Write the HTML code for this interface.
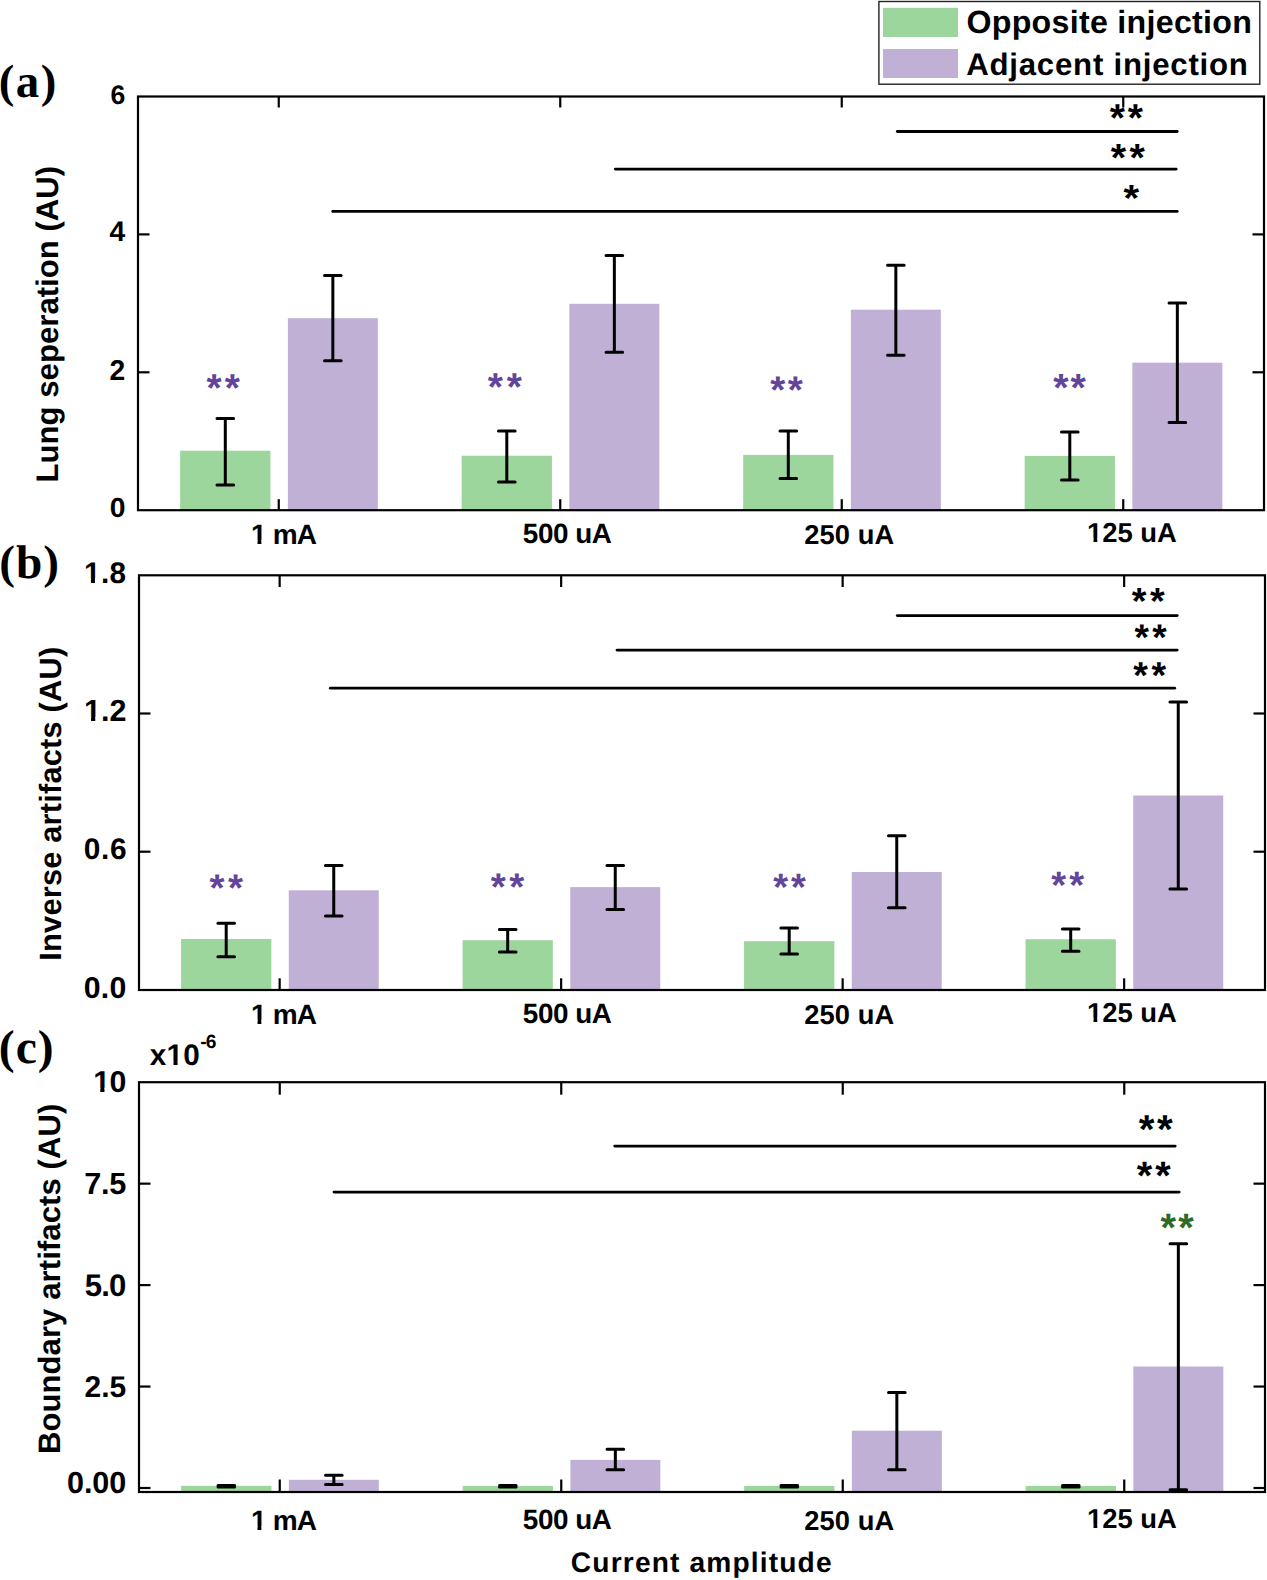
<!DOCTYPE html><html><head><meta charset="utf-8"><style>
html,body{margin:0;padding:0;background:#fff;overflow:hidden;}
svg{display:block;}
text{font-weight:bold;text-rendering:geometricPrecision;}
</style></head><body>
<svg width="1267" height="1580" viewBox="0 0 1267 1580">
<rect width="1267" height="1580" fill="#fff"/>
<rect x="878.9" y="1.5" width="380.9" height="82.7" fill="#fff" stroke="#222" stroke-width="1.4"/>
<rect x="883" y="7.8" width="75" height="29.2" fill="#9dd69d"/>
<rect x="883" y="49" width="75" height="29" fill="#c1b0d6"/>
<rect x="180.15" y="450.7" width="90.29999999999998" height="59.5" fill="#9dd69d"/>
<rect x="287.85" y="318.2" width="90.0" height="192.0" fill="#c1b0d6"/>
<rect x="461.65" y="455.7" width="90.30000000000007" height="54.5" fill="#9dd69d"/>
<rect x="569.35" y="303.8" width="90.0" height="206.39999999999998" fill="#c1b0d6"/>
<rect x="743.15" y="454.9" width="90.30000000000007" height="55.30000000000001" fill="#9dd69d"/>
<rect x="850.85" y="309.7" width="90.0" height="200.5" fill="#c1b0d6"/>
<rect x="1024.65" y="455.9" width="90.29999999999995" height="54.30000000000001" fill="#9dd69d"/>
<rect x="1132.35" y="362.7" width="90.0" height="147.5" fill="#c1b0d6"/>
<rect x="138" y="96.5" width="1126" height="413.7" fill="none" stroke="#000" stroke-width="2.2"/>
<line x1="278.75" y1="510.2" x2="278.75" y2="499.2" stroke="#000" stroke-width="2.2"/>
<line x1="278.75" y1="96.5" x2="278.75" y2="107.5" stroke="#000" stroke-width="2.2"/>
<line x1="560.25" y1="510.2" x2="560.25" y2="499.2" stroke="#000" stroke-width="2.2"/>
<line x1="560.25" y1="96.5" x2="560.25" y2="107.5" stroke="#000" stroke-width="2.2"/>
<line x1="841.75" y1="510.2" x2="841.75" y2="499.2" stroke="#000" stroke-width="2.2"/>
<line x1="841.75" y1="96.5" x2="841.75" y2="107.5" stroke="#000" stroke-width="2.2"/>
<line x1="1123.25" y1="510.2" x2="1123.25" y2="499.2" stroke="#000" stroke-width="2.2"/>
<line x1="1123.25" y1="96.5" x2="1123.25" y2="107.5" stroke="#000" stroke-width="2.2"/>
<line x1="138" y1="234.39999999999998" x2="149.5" y2="234.39999999999998" stroke="#000" stroke-width="2.2"/>
<line x1="1264" y1="234.39999999999998" x2="1252.5" y2="234.39999999999998" stroke="#000" stroke-width="2.2"/>
<line x1="138" y1="372.29999999999995" x2="149.5" y2="372.29999999999995" stroke="#000" stroke-width="2.2"/>
<line x1="1264" y1="372.29999999999995" x2="1252.5" y2="372.29999999999995" stroke="#000" stroke-width="2.2"/>
<path d="M217.00,418.4H233.60M225.30,418.4V484.9M217.00,484.9H233.60" stroke="#000" stroke-width="3.0" fill="none" stroke-linecap="round"/>
<path d="M324.55,275.6H341.15M332.85,275.6V360.7M324.55,360.7H341.15" stroke="#000" stroke-width="3.0" fill="none" stroke-linecap="round"/>
<path d="M498.50,431.1H515.10M506.80,431.1V482.0M498.50,482.0H515.10" stroke="#000" stroke-width="3.0" fill="none" stroke-linecap="round"/>
<path d="M606.05,255.4H622.65M614.35,255.4V352.2M606.05,352.2H622.65" stroke="#000" stroke-width="3.0" fill="none" stroke-linecap="round"/>
<path d="M780.00,431.1H796.60M788.30,431.1V478.4M780.00,478.4H796.60" stroke="#000" stroke-width="3.0" fill="none" stroke-linecap="round"/>
<path d="M887.55,265.2H904.15M895.85,265.2V355.2M887.55,355.2H904.15" stroke="#000" stroke-width="3.0" fill="none" stroke-linecap="round"/>
<path d="M1061.50,431.9H1078.10M1069.80,431.9V480.0M1061.50,480.0H1078.10" stroke="#000" stroke-width="3.0" fill="none" stroke-linecap="round"/>
<path d="M1169.05,303.1H1185.65M1177.35,303.1V422.4M1169.05,422.4H1185.65" stroke="#000" stroke-width="3.0" fill="none" stroke-linecap="round"/>
<line x1="897.3" y1="131.5" x2="1177.2" y2="131.5" stroke="#000" stroke-width="2.8" stroke-linecap="round"/>
<line x1="615.3" y1="169.1" x2="1176.2" y2="169.1" stroke="#000" stroke-width="2.8" stroke-linecap="round"/>
<line x1="332.8" y1="211.4" x2="1177.2" y2="211.4" stroke="#000" stroke-width="2.8" stroke-linecap="round"/>
<rect x="181.04999999999998" y="939.0" width="90.29999999999998" height="51.0" fill="#9dd69d"/>
<rect x="288.75" y="890.3" width="90.0" height="99.70000000000005" fill="#c1b0d6"/>
<rect x="462.54999999999995" y="940.2" width="90.30000000000007" height="49.799999999999955" fill="#9dd69d"/>
<rect x="570.25" y="887.1" width="90.0" height="102.89999999999998" fill="#c1b0d6"/>
<rect x="744.05" y="941.2" width="90.30000000000007" height="48.799999999999955" fill="#9dd69d"/>
<rect x="851.75" y="872.0" width="90.0" height="118.0" fill="#c1b0d6"/>
<rect x="1025.5500000000002" y="939.2" width="90.29999999999995" height="50.799999999999955" fill="#9dd69d"/>
<rect x="1133.25" y="795.5" width="90.0" height="194.5" fill="#c1b0d6"/>
<rect x="139" y="575.3" width="1126" height="414.70000000000005" fill="none" stroke="#000" stroke-width="2.2"/>
<line x1="279.65" y1="990" x2="279.65" y2="978.3" stroke="#000" stroke-width="2.2"/>
<line x1="279.65" y1="575.3" x2="279.65" y2="587.0" stroke="#000" stroke-width="2.2"/>
<line x1="561.15" y1="990" x2="561.15" y2="978.3" stroke="#000" stroke-width="2.2"/>
<line x1="561.15" y1="575.3" x2="561.15" y2="587.0" stroke="#000" stroke-width="2.2"/>
<line x1="842.65" y1="990" x2="842.65" y2="978.3" stroke="#000" stroke-width="2.2"/>
<line x1="842.65" y1="575.3" x2="842.65" y2="587.0" stroke="#000" stroke-width="2.2"/>
<line x1="1124.15" y1="990" x2="1124.15" y2="978.3" stroke="#000" stroke-width="2.2"/>
<line x1="1124.15" y1="575.3" x2="1124.15" y2="587.0" stroke="#000" stroke-width="2.2"/>
<line x1="139" y1="713.5" x2="150.5" y2="713.5" stroke="#000" stroke-width="2.2"/>
<line x1="1265" y1="713.5" x2="1253.5" y2="713.5" stroke="#000" stroke-width="2.2"/>
<line x1="139" y1="851.6999999999999" x2="150.5" y2="851.6999999999999" stroke="#000" stroke-width="2.2"/>
<line x1="1265" y1="851.6999999999999" x2="1253.5" y2="851.6999999999999" stroke="#000" stroke-width="2.2"/>
<path d="M217.90,923.3H234.50M226.20,923.3V956.7M217.90,956.7H234.50" stroke="#000" stroke-width="3.0" fill="none" stroke-linecap="round"/>
<path d="M325.45,865.4H342.05M333.75,865.4V916.1M325.45,916.1H342.05" stroke="#000" stroke-width="3.0" fill="none" stroke-linecap="round"/>
<path d="M499.40,929.4H516.00M507.70,929.4V951.9M499.40,951.9H516.00" stroke="#000" stroke-width="3.0" fill="none" stroke-linecap="round"/>
<path d="M606.95,865.4H623.55M615.25,865.4V909.6M606.95,909.6H623.55" stroke="#000" stroke-width="3.0" fill="none" stroke-linecap="round"/>
<path d="M780.90,927.9H797.50M789.20,927.9V954.1M780.90,954.1H797.50" stroke="#000" stroke-width="3.0" fill="none" stroke-linecap="round"/>
<path d="M888.45,835.7H905.05M896.75,835.7V907.8M888.45,907.8H905.05" stroke="#000" stroke-width="3.0" fill="none" stroke-linecap="round"/>
<path d="M1062.40,929.1H1079.00M1070.70,929.1V951.3M1062.40,951.3H1079.00" stroke="#000" stroke-width="3.0" fill="none" stroke-linecap="round"/>
<path d="M1169.95,702.1H1186.55M1178.25,702.1V888.9M1169.95,888.9H1186.55" stroke="#000" stroke-width="3.0" fill="none" stroke-linecap="round"/>
<line x1="897.3" y1="615.6" x2="1177.2" y2="615.6" stroke="#000" stroke-width="2.8" stroke-linecap="round"/>
<line x1="617.0" y1="650.1" x2="1177.2" y2="650.1" stroke="#000" stroke-width="2.8" stroke-linecap="round"/>
<line x1="330.3" y1="688.2" x2="1174.7" y2="688.2" stroke="#000" stroke-width="2.8" stroke-linecap="round"/>
<rect x="181.15" y="1485.8" width="90.29999999999998" height="6.2000000000000455" fill="#9dd69d"/>
<rect x="288.85" y="1479.8" width="90.0" height="12.200000000000045" fill="#c1b0d6"/>
<rect x="462.65" y="1485.9" width="90.30000000000007" height="6.099999999999909" fill="#9dd69d"/>
<rect x="570.35" y="1459.9" width="90.0" height="32.09999999999991" fill="#c1b0d6"/>
<rect x="744.15" y="1485.9" width="90.30000000000007" height="6.099999999999909" fill="#9dd69d"/>
<rect x="851.85" y="1430.7" width="90.0" height="61.299999999999955" fill="#c1b0d6"/>
<rect x="1025.65" y="1485.9" width="90.29999999999995" height="6.099999999999909" fill="#9dd69d"/>
<rect x="1133.35" y="1366.5" width="90.0" height="125.5" fill="#c1b0d6"/>
<rect x="139" y="1082.2" width="1126" height="409.79999999999995" fill="none" stroke="#000" stroke-width="2.2"/>
<line x1="279.75" y1="1492" x2="279.75" y2="1479.5" stroke="#000" stroke-width="2.2"/>
<line x1="279.75" y1="1082.2" x2="279.75" y2="1094.7" stroke="#000" stroke-width="2.2"/>
<line x1="561.25" y1="1492" x2="561.25" y2="1479.5" stroke="#000" stroke-width="2.2"/>
<line x1="561.25" y1="1082.2" x2="561.25" y2="1094.7" stroke="#000" stroke-width="2.2"/>
<line x1="842.75" y1="1492" x2="842.75" y2="1479.5" stroke="#000" stroke-width="2.2"/>
<line x1="842.75" y1="1082.2" x2="842.75" y2="1094.7" stroke="#000" stroke-width="2.2"/>
<line x1="1124.25" y1="1492" x2="1124.25" y2="1479.5" stroke="#000" stroke-width="2.2"/>
<line x1="1124.25" y1="1082.2" x2="1124.25" y2="1094.7" stroke="#000" stroke-width="2.2"/>
<line x1="139" y1="1183.65" x2="150.5" y2="1183.65" stroke="#000" stroke-width="2.2"/>
<line x1="1265" y1="1183.65" x2="1253.5" y2="1183.65" stroke="#000" stroke-width="2.2"/>
<line x1="139" y1="1285.1" x2="150.5" y2="1285.1" stroke="#000" stroke-width="2.2"/>
<line x1="1265" y1="1285.1" x2="1253.5" y2="1285.1" stroke="#000" stroke-width="2.2"/>
<line x1="139" y1="1386.55" x2="150.5" y2="1386.55" stroke="#000" stroke-width="2.2"/>
<line x1="1265" y1="1386.55" x2="1253.5" y2="1386.55" stroke="#000" stroke-width="2.2"/>
<line x1="139" y1="1488.0" x2="150.5" y2="1488.0" stroke="#000" stroke-width="2.2"/>
<line x1="1265" y1="1488.0" x2="1253.5" y2="1488.0" stroke="#000" stroke-width="2.2"/>
<path d="M218.00,1485.5H234.60M226.30,1485.5V1487.1M218.00,1487.1H234.60" stroke="#000" stroke-width="3.0" fill="none" stroke-linecap="round"/>
<path d="M325.55,1475.3H342.15M333.85,1475.3V1484.4M325.55,1484.4H342.15" stroke="#000" stroke-width="3.0" fill="none" stroke-linecap="round"/>
<path d="M499.50,1485.5H516.10M507.80,1485.5V1487.1M499.50,1487.1H516.10" stroke="#000" stroke-width="3.0" fill="none" stroke-linecap="round"/>
<path d="M607.05,1449.2H623.65M615.35,1449.2V1469.7M607.05,1469.7H623.65" stroke="#000" stroke-width="3.0" fill="none" stroke-linecap="round"/>
<path d="M781.00,1485.5H797.60M789.30,1485.5V1487.1M781.00,1487.1H797.60" stroke="#000" stroke-width="3.0" fill="none" stroke-linecap="round"/>
<path d="M888.55,1392.6H905.15M896.85,1392.6V1469.7M888.55,1469.7H905.15" stroke="#000" stroke-width="3.0" fill="none" stroke-linecap="round"/>
<path d="M1062.50,1485.5H1079.10M1070.80,1485.5V1487.1M1062.50,1487.1H1079.10" stroke="#000" stroke-width="3.0" fill="none" stroke-linecap="round"/>
<path d="M1170.05,1243.7H1186.65M1178.35,1243.7V1489.8M1170.05,1489.8H1186.65" stroke="#000" stroke-width="3.0" fill="none" stroke-linecap="round"/>
<line x1="614.6999999999999" y1="1146.1" x2="1175.2" y2="1146.1" stroke="#000" stroke-width="2.8" stroke-linecap="round"/>
<line x1="334.0" y1="1192.1" x2="1179.2" y2="1192.1" stroke="#000" stroke-width="2.8" stroke-linecap="round"/>
<text transform="translate(-1.15,96.89) scale(0.9770,0.9770)" style="font-family:'Liberation Serif',serif;font-size:48px;letter-spacing:1.402px;fill:#000">(a)</text>
<text transform="translate(-0.87,577.71) scale(0.9839,0.9839)" style="font-family:'Liberation Serif',serif;font-size:48px;letter-spacing:1.106px;fill:#000">(b)</text>
<text transform="translate(-1.18,1063.44) scale(0.9908,0.9908)" style="font-family:'Liberation Serif',serif;font-size:48px;letter-spacing:1.061px;fill:#000">(c)</text>
<text transform="translate(966.44,33.37) scale(1.0050,1.0050)" style="font-family:'Liberation Sans',sans-serif;font-size:32px;letter-spacing:0.290px;fill:#000">Opposite injection</text>
<text transform="translate(966.17,74.96) scale(0.9748,0.9748)" style="font-family:'Liberation Sans',sans-serif;font-size:32px;letter-spacing:0.786px;fill:#000">Adjacent injection</text>
<text transform="translate(110.42,103.65) scale(0.9846,0.9947)" style="font-family:'Liberation Sans',sans-serif;font-size:27px;letter-spacing:0.000px;fill:#000">6</text>
<text transform="translate(109.48,240.60) scale(1.0456,1.0486)" style="font-family:'Liberation Sans',sans-serif;font-size:27px;letter-spacing:0.000px;fill:#000">4</text>
<text transform="translate(109.55,379.80) scale(1.0462,1.0560)" style="font-family:'Liberation Sans',sans-serif;font-size:27px;letter-spacing:0.000px;fill:#000">2</text>
<text transform="translate(109.65,516.85) scale(1.0462,1.0158)" style="font-family:'Liberation Sans',sans-serif;font-size:27px;letter-spacing:0.000px;fill:#000">0</text>
<text transform="translate(83.98,582.52) scale(1.1000,1.1000)" style="font-family:'Liberation Sans',sans-serif;font-size:27px;letter-spacing:0.364px;fill:#000">1.8</text><g transform="translate(83.98,582.52) scale(1.1000,1.1000)"><rect x="0.264" y="-3.823" width="6.025" height="5.273" fill="#fff"/><rect x="10.020" y="-3.823" width="5.801" height="5.273" fill="#fff"/></g>
<text transform="translate(83.92,721.40) scale(1.1307,1.1307)" style="font-family:'Liberation Sans',sans-serif;font-size:27px;letter-spacing:0.004px;fill:#000">1.2</text><g transform="translate(83.92,721.40) scale(1.1307,1.1307)"><rect x="0.264" y="-3.823" width="6.025" height="5.273" fill="#fff"/><rect x="10.020" y="-3.823" width="5.801" height="5.273" fill="#fff"/></g>
<text transform="translate(83.79,858.82) scale(1.1053,1.1053)" style="font-family:'Liberation Sans',sans-serif;font-size:27px;letter-spacing:0.571px;fill:#000">0.6</text>
<text transform="translate(83.78,997.52) scale(1.1211,1.1211)" style="font-family:'Liberation Sans',sans-serif;font-size:27px;letter-spacing:0.224px;fill:#000">0.0</text>
<text transform="translate(93.24,1092.22) scale(1.1211,1.1211)" style="font-family:'Liberation Sans',sans-serif;font-size:27px;letter-spacing:-0.489px;fill:#000">10</text><g transform="translate(93.24,1092.22) scale(1.1211,1.1211)"><rect x="0.264" y="-3.823" width="6.025" height="5.273" fill="#fff"/><rect x="10.020" y="-3.823" width="5.417" height="5.273" fill="#fff"/></g>
<text transform="translate(84.28,1194.12) scale(1.1360,1.1360)" style="font-family:'Liberation Sans',sans-serif;font-size:27px;letter-spacing:-0.276px;fill:#000">7.5</text>
<text transform="translate(84.75,1295.51) scale(1.1526,1.1526)" style="font-family:'Liberation Sans',sans-serif;font-size:27px;letter-spacing:-0.702px;fill:#000">5.0</text>
<text transform="translate(84.59,1396.72) scale(1.1105,1.1105)" style="font-family:'Liberation Sans',sans-serif;font-size:27px;letter-spacing:-0.001px;fill:#000">2.5</text>
<text transform="translate(67.07,1492.52) scale(1.1316,1.1316)" style="font-family:'Liberation Sans',sans-serif;font-size:27px;letter-spacing:-0.102px;fill:#000">0.00</text>
<text transform="translate(250.98,543.90) scale(1.0378,1.0378)" style="font-family:'Liberation Sans',sans-serif;font-size:27px;letter-spacing:-0.772px;fill:#000">1 mA</text><g transform="translate(250.98,543.90) scale(1.0378,1.0378)"><rect x="0.264" y="-3.823" width="6.025" height="5.273" fill="#fff"/><rect x="10.020" y="-3.823" width="5.801" height="5.273" fill="#fff"/></g>
<text transform="translate(522.87,542.94) scale(1.0316,1.0316)" style="font-family:'Liberation Sans',sans-serif;font-size:27px;letter-spacing:-0.444px;fill:#000">500 uA</text>
<text transform="translate(804.19,543.75) scale(1.0105,1.0105)" style="font-family:'Liberation Sans',sans-serif;font-size:27px;letter-spacing:0.086px;fill:#000">250 uA</text>
<text transform="translate(1087.12,541.85) scale(1.0158,1.0158)" style="font-family:'Liberation Sans',sans-serif;font-size:27px;letter-spacing:-0.070px;fill:#000">125 uA</text><g transform="translate(1087.12,541.85) scale(1.0158,1.0158)"><rect x="0.264" y="-3.823" width="6.025" height="5.273" fill="#fff"/><rect x="10.020" y="-3.823" width="5.704" height="5.273" fill="#fff"/></g>
<text transform="translate(250.98,1023.70) scale(1.0378,1.0378)" style="font-family:'Liberation Sans',sans-serif;font-size:27px;letter-spacing:-0.772px;fill:#000">1 mA</text><g transform="translate(250.98,1023.70) scale(1.0378,1.0378)"><rect x="0.264" y="-3.823" width="6.025" height="5.273" fill="#fff"/><rect x="10.020" y="-3.823" width="5.801" height="5.273" fill="#fff"/></g>
<text transform="translate(522.87,1022.74) scale(1.0316,1.0316)" style="font-family:'Liberation Sans',sans-serif;font-size:27px;letter-spacing:-0.444px;fill:#000">500 uA</text>
<text transform="translate(804.19,1023.55) scale(1.0105,1.0105)" style="font-family:'Liberation Sans',sans-serif;font-size:27px;letter-spacing:0.086px;fill:#000">250 uA</text>
<text transform="translate(1087.12,1021.65) scale(1.0158,1.0158)" style="font-family:'Liberation Sans',sans-serif;font-size:27px;letter-spacing:-0.070px;fill:#000">125 uA</text><g transform="translate(1087.12,1021.65) scale(1.0158,1.0158)"><rect x="0.264" y="-3.823" width="6.025" height="5.273" fill="#fff"/><rect x="10.020" y="-3.823" width="5.704" height="5.273" fill="#fff"/></g>
<text transform="translate(250.98,1530.20) scale(1.0378,1.0378)" style="font-family:'Liberation Sans',sans-serif;font-size:27px;letter-spacing:-0.772px;fill:#000">1 mA</text><g transform="translate(250.98,1530.20) scale(1.0378,1.0378)"><rect x="0.264" y="-3.823" width="6.025" height="5.273" fill="#fff"/><rect x="10.020" y="-3.823" width="5.801" height="5.273" fill="#fff"/></g>
<text transform="translate(522.87,1529.24) scale(1.0316,1.0316)" style="font-family:'Liberation Sans',sans-serif;font-size:27px;letter-spacing:-0.444px;fill:#000">500 uA</text>
<text transform="translate(804.19,1530.05) scale(1.0105,1.0105)" style="font-family:'Liberation Sans',sans-serif;font-size:27px;letter-spacing:0.086px;fill:#000">250 uA</text>
<text transform="translate(1087.12,1528.15) scale(1.0158,1.0158)" style="font-family:'Liberation Sans',sans-serif;font-size:27px;letter-spacing:-0.070px;fill:#000">125 uA</text><g transform="translate(1087.12,1528.15) scale(1.0158,1.0158)"><rect x="0.264" y="-3.823" width="6.025" height="5.273" fill="#fff"/><rect x="10.020" y="-3.823" width="5.704" height="5.273" fill="#fff"/></g>
<text transform="translate(57.76,482.51) rotate(-90) scale(1.0069,1.0069)" style="font-family:'Liberation Sans',sans-serif;font-size:31px;letter-spacing:-0.034px;fill:#000">Lung seperation (AU)</text>
<text transform="translate(61.34,960.69) rotate(-90) scale(0.9931,0.9931)" style="font-family:'Liberation Sans',sans-serif;font-size:31px;letter-spacing:0.200px;fill:#000">Inverse artifacts (AU)</text>
<text transform="translate(59.50,1454.10) rotate(-90) scale(1.0000,1.0000)" style="font-family:'Liberation Sans',sans-serif;font-size:31px;letter-spacing:0.109px;fill:#000">Boundary artifacts (AU)</text>
<text transform="translate(570.86,1572.07) scale(0.9887,0.9887)" style="font-family:'Liberation Sans',sans-serif;font-size:28.5px;letter-spacing:1.144px;fill:#000">Current amplitude</text>
<text transform="translate(149.82,1065.42) scale(1.1000,1.1000)" style="font-family:'Liberation Sans',sans-serif;font-size:27px;letter-spacing:0.216px;fill:#000">x10</text><g transform="translate(149.82,1065.42) scale(1.1000,1.1000)"><rect x="15.496" y="-3.823" width="6.025" height="5.273" fill="#fff"/><rect x="25.252" y="-3.823" width="5.801" height="5.273" fill="#fff"/></g>
<text transform="translate(200.30,1047.73) scale(1.0667,1.0667)" style="font-family:'Liberation Sans',sans-serif;font-size:18px;letter-spacing:-0.812px;fill:#000">-6</text>
<text transform="translate(206.55,400.54) scale(1.0084,1.0084)" style="font-family:'Liberation Sans',sans-serif;font-size:38.5px;letter-spacing:3.124px;fill:#62459a">**</text>
<text transform="translate(487.85,399.78) scale(1.0108,1.0108)" style="font-family:'Liberation Sans',sans-serif;font-size:38.5px;letter-spacing:3.641px;fill:#62459a">**</text>
<text transform="translate(770.15,402.63) scale(1.0029,1.0029)" style="font-family:'Liberation Sans',sans-serif;font-size:38.5px;letter-spacing:2.506px;fill:#62459a">**</text>
<text transform="translate(1053.14,400.98) scale(1.0236,1.0236)" style="font-family:'Liberation Sans',sans-serif;font-size:38.5px;letter-spacing:2.051px;fill:#62459a">**</text>
<text transform="translate(1109.85,130.87) scale(1.0127,1.0127)" style="font-family:'Liberation Sans',sans-serif;font-size:38.5px;letter-spacing:2.590px;fill:#000">**</text>
<text transform="translate(1110.84,170.73) scale(1.0232,1.0232)" style="font-family:'Liberation Sans',sans-serif;font-size:38.5px;letter-spacing:3.137px;fill:#000">**</text>
<text transform="translate(1123.44,211.24) scale(1.0441,0.9825)" style="font-family:'Liberation Sans',sans-serif;font-size:38.5px;letter-spacing:2.300px;fill:#000">*</text>
<text transform="translate(209.45,901.23) scale(1.0030,1.0030)" style="font-family:'Liberation Sans',sans-serif;font-size:38.5px;letter-spacing:3.402px;fill:#62459a">**</text>
<text transform="translate(490.65,900.27) scale(1.0026,1.0026)" style="font-family:'Liberation Sans',sans-serif;font-size:38.5px;letter-spacing:3.614px;fill:#62459a">**</text>
<text transform="translate(773.15,899.97) scale(0.9870,0.9870)" style="font-family:'Liberation Sans',sans-serif;font-size:38.5px;letter-spacing:3.128px;fill:#62459a">**</text>
<text transform="translate(1051.25,898.13) scale(0.9901,0.9901)" style="font-family:'Liberation Sans',sans-serif;font-size:38.5px;letter-spacing:3.227px;fill:#62459a">**</text>
<text transform="translate(1131.66,614.22) scale(0.9792,0.9792)" style="font-family:'Liberation Sans',sans-serif;font-size:38.5px;letter-spacing:3.798px;fill:#000">**</text>
<text transform="translate(1134.46,650.23) scale(0.9616,0.9616)" style="font-family:'Liberation Sans',sans-serif;font-size:38.5px;letter-spacing:3.474px;fill:#000">**</text>
<text transform="translate(1133.36,687.53) scale(0.9745,0.9745)" style="font-family:'Liberation Sans',sans-serif;font-size:38.5px;letter-spacing:3.651px;fill:#000">**</text>
<text transform="translate(1138.74,1142.99) scale(1.0474,1.0474)" style="font-family:'Liberation Sans',sans-serif;font-size:38.5px;letter-spacing:2.570px;fill:#000">**</text>
<text transform="translate(1136.74,1188.99) scale(1.0318,1.0318)" style="font-family:'Liberation Sans',sans-serif;font-size:38.5px;letter-spacing:2.961px;fill:#000">**</text>
<text transform="translate(1160.54,1241.42) scale(1.0334,1.0334)" style="font-family:'Liberation Sans',sans-serif;font-size:38.5px;letter-spacing:2.138px;fill:#2b6b2b">**</text>
</svg></body></html>
